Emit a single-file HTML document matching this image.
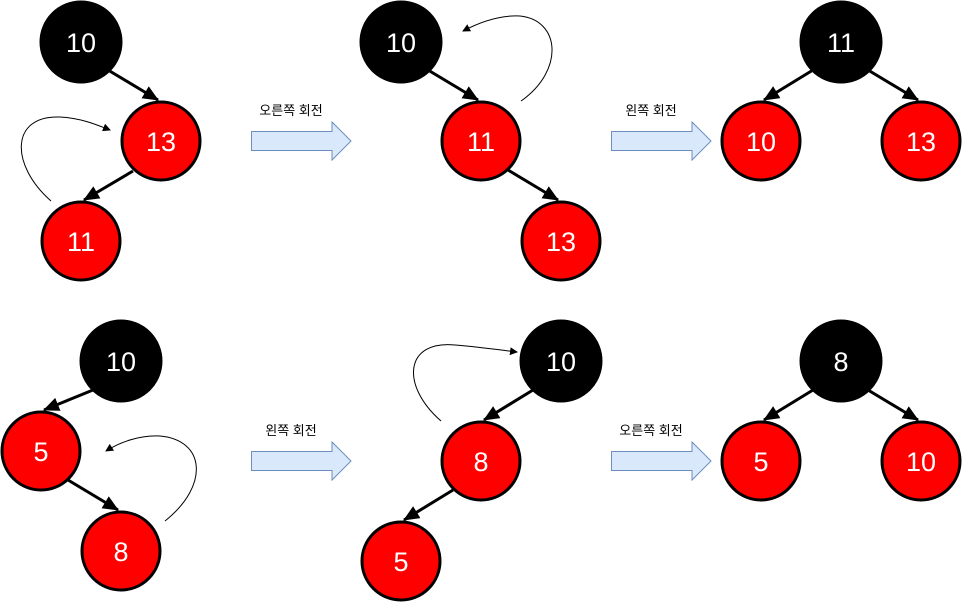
<!DOCTYPE html><html><head><style>body{margin:0;background:#fff}</style></head><body>
<svg width="963" height="603" viewBox="0 0 963 603" xmlns="http://www.w3.org/2000/svg" font-family="Liberation Sans, sans-serif">
<defs>
<marker id="a" markerWidth="8" markerHeight="8" refX="7" refY="4" orient="auto" markerUnits="userSpaceOnUse"><path d="M0,0 L8,4 L0,8 z" fill="#000"/></marker>
<marker id="b" markerWidth="16" markerHeight="14" refX="15" refY="7" orient="auto" markerUnits="userSpaceOnUse"><path d="M0,0 L16,7 L0,14 z" fill="#000"/></marker>
</defs>
<g stroke="#000" stroke-width="3" marker-end="url(#b)">
<line x1="108" y1="70" x2="158" y2="100"/>
<line x1="133" y1="171" x2="84" y2="200"/>
<line x1="428" y1="70" x2="478" y2="100"/>
<line x1="508" y1="170" x2="558" y2="200"/>
<line x1="813" y1="70" x2="764" y2="100"/>
<line x1="868" y1="70" x2="918" y2="100"/>
<line x1="93" y1="390" x2="44" y2="410"/>
<line x1="68" y1="480" x2="118" y2="510"/>
<line x1="533" y1="390" x2="484" y2="420"/>
<line x1="453" y1="490" x2="404" y2="520"/>
<line x1="813" y1="390" x2="764" y2="420"/>
<line x1="868" y1="390" x2="918" y2="420"/>
</g>
<g fill="none" stroke="#000" stroke-width="1" marker-end="url(#a)">
<path d="M51,201 C10,165 10,115 60,117 C80,118 95,124 110,130"/>
<path d="M521,101 C565,70 560,20 520,16 C500,15 480,22 463,31"/>
<path d="M165,521 C210,485 205,440 160,436 C140,435 120,442 106,451"/>
<path d="M441,421 C400,385 405,340 455,345 C480,347 500,350 517,352"/>
</g>
<g stroke="#000" stroke-width="3" font-size="27" text-anchor="middle">
<circle cx="81" cy="42" r="40" fill="#000"/><circle cx="161" cy="141" r="39" fill="#f00"/><circle cx="81" cy="241" r="39" fill="#f00"/>
<circle cx="401" cy="42" r="40" fill="#000"/><circle cx="481" cy="141" r="39" fill="#f00"/><circle cx="561" cy="241" r="39" fill="#f00"/>
<circle cx="841" cy="42" r="40" fill="#000"/><circle cx="761" cy="141" r="39" fill="#f00"/><circle cx="921" cy="141" r="39" fill="#f00"/>
<circle cx="121" cy="361" r="40" fill="#000"/><circle cx="41" cy="451" r="39" fill="#f00"/><circle cx="121" cy="551" r="39" fill="#f00"/>
<circle cx="561" cy="361" r="40" fill="#000"/><circle cx="481" cy="461" r="39" fill="#f00"/><circle cx="401" cy="561" r="39" fill="#f00"/>
<circle cx="841" cy="361" r="40" fill="#000"/><circle cx="761" cy="461" r="39" fill="#f00"/><circle cx="921" cy="461" r="39" fill="#f00"/>
</g>
<g fill="#fff" font-size="27" text-anchor="middle">
<text x="81" y="52">10</text><text x="161" y="151">13</text><text x="81" y="251">11</text>
<text x="401" y="52">10</text><text x="481" y="151">11</text><text x="561" y="251">13</text>
<text x="841" y="52">11</text><text x="761" y="151">10</text><text x="921" y="151">13</text>
<text x="121" y="371">10</text><text x="41" y="461">5</text><text x="121" y="561">8</text>
<text x="561" y="371">10</text><text x="481" y="471">8</text><text x="401" y="571">5</text>
<text x="841" y="371">8</text><text x="761" y="471">5</text><text x="921" y="471">10</text>
</g>
<g fill="#dae8fc" stroke="#6c8ebf" stroke-width="1">
<path d="M251.5,131.5 H332 V122 L351,141 L332,160 V150.5 H251.5 z"/>
<path d="M611.5,131.5 H692 V122 L711,141 L692,160 V150.5 H611.5 z"/>
<path d="M251.5,451.5 H332 V442 L351,461 L332,480 V470.5 H251.5 z"/>
<path d="M611.5,451.5 H692 V442 L711,461 L692,480 V470.5 H611.5 z"/>
</g>
<g font-family="Liberation Sans, Noto Sans CJK KR, sans-serif" font-size="13" text-anchor="middle" fill="#000">
<text x="291" y="115">오른쪽 회전</text>
<text x="651" y="115">왼쪽 회전</text>
<text x="291" y="435">왼쪽 회전</text>
<text x="651" y="435">오른쪽 회전</text>
</g>
</svg>
</body></html>
